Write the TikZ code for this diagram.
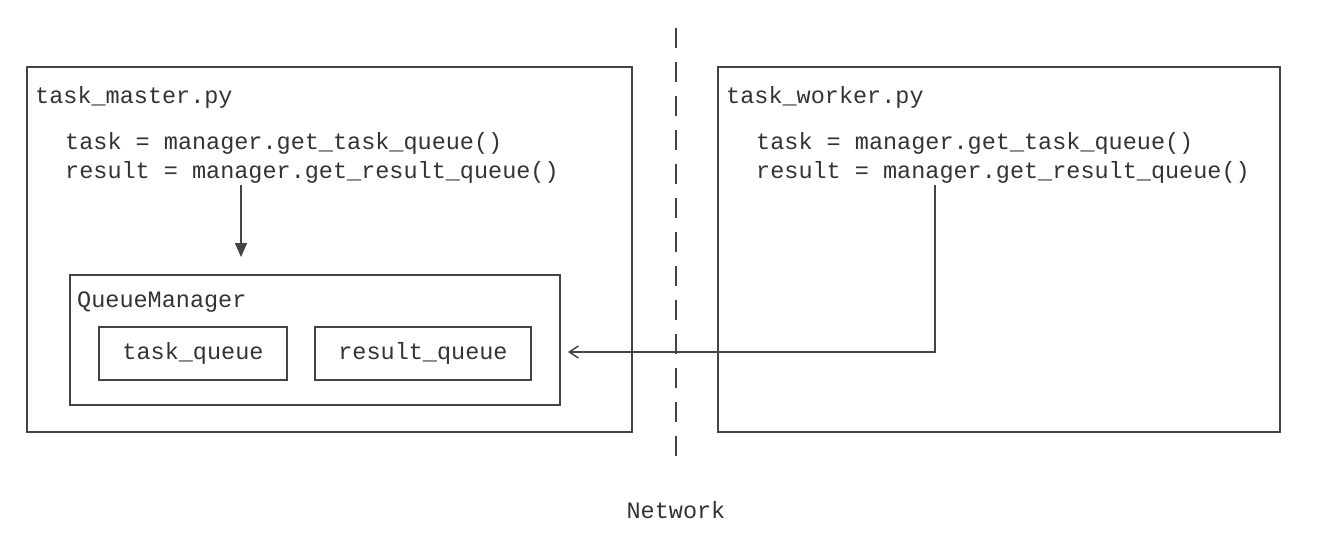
\documentclass[tikz,border=0pt]{standalone}
\usepackage{fontspec}
\setmonofont{Liberation Mono}
\usetikzlibrary{arrows.meta}
\definecolor{ln}{HTML}{444444}
\definecolor{tx}{HTML}{333333}
\begin{document}
\begin{tikzpicture}[x=1pt,y=-1pt,
  box/.style={draw=ln,line width=1.5pt},
  lbl/.style={anchor=west,inner sep=0pt,text=tx,font=\fontsize{23.5}{26}\ttfamily},
  conn/.style={draw=ln,line width=1.5pt}]
\useasboundingbox (0,0) rectangle (1318,546);
\draw[box] (27,67) rectangle (632,432);
\draw[box] (718,67) rectangle (1280,432);
\draw[ln,line width=1.5pt,dash pattern=on 20pt off 14pt] (676,28) -- (676,470);
\node[lbl,anchor=center] (net) at (676,510) {Network};
\node[lbl] (tm) at (35,97) {task\_master.py};
\node[lbl] (t1) at (65,143) {task = manager.get\_task\_queue()};
\node[lbl] (r1) at (65,172) {result = manager.get\_result\_queue()};
\node[lbl] (tw) at (726,97) {task\_worker.py};
\node[lbl] (t2) at (756,143) {task = manager.get\_task\_queue()};
\node[lbl] (r2) at (756,172) {result = manager.get\_result\_queue()};
\draw[box] (70,275) rectangle (560,405);
\node[lbl] (qm) at (77,302) {QueueManager};
\node[box,minimum width=188pt,minimum height=53pt,inner sep=0pt,text=tx,font=\fontsize{23.5}{26}\ttfamily] (tq) at (193,353.5) {task\_queue};
\node[box,minimum width=216pt,minimum height=53pt,inner sep=0pt,text=tx,font=\fontsize{23.5}{26}\ttfamily] (rq) at (423,353.5) {result\_queue};
\coordinate (a0) at (241,185);
\coordinate (a1) at (241,257);
\draw[conn,-{Triangle[length=14pt,width=12pt]}] (a0) -- (a1);
\coordinate (b0) at (935,185);
\coordinate (b1) at (935,352);
\coordinate (b2) at (568,352);
\draw[conn,-{Straight Barb[length=9pt,width=12pt]}] (b0) -- (b1) -- (b2);
\end{tikzpicture}
\end{document}
